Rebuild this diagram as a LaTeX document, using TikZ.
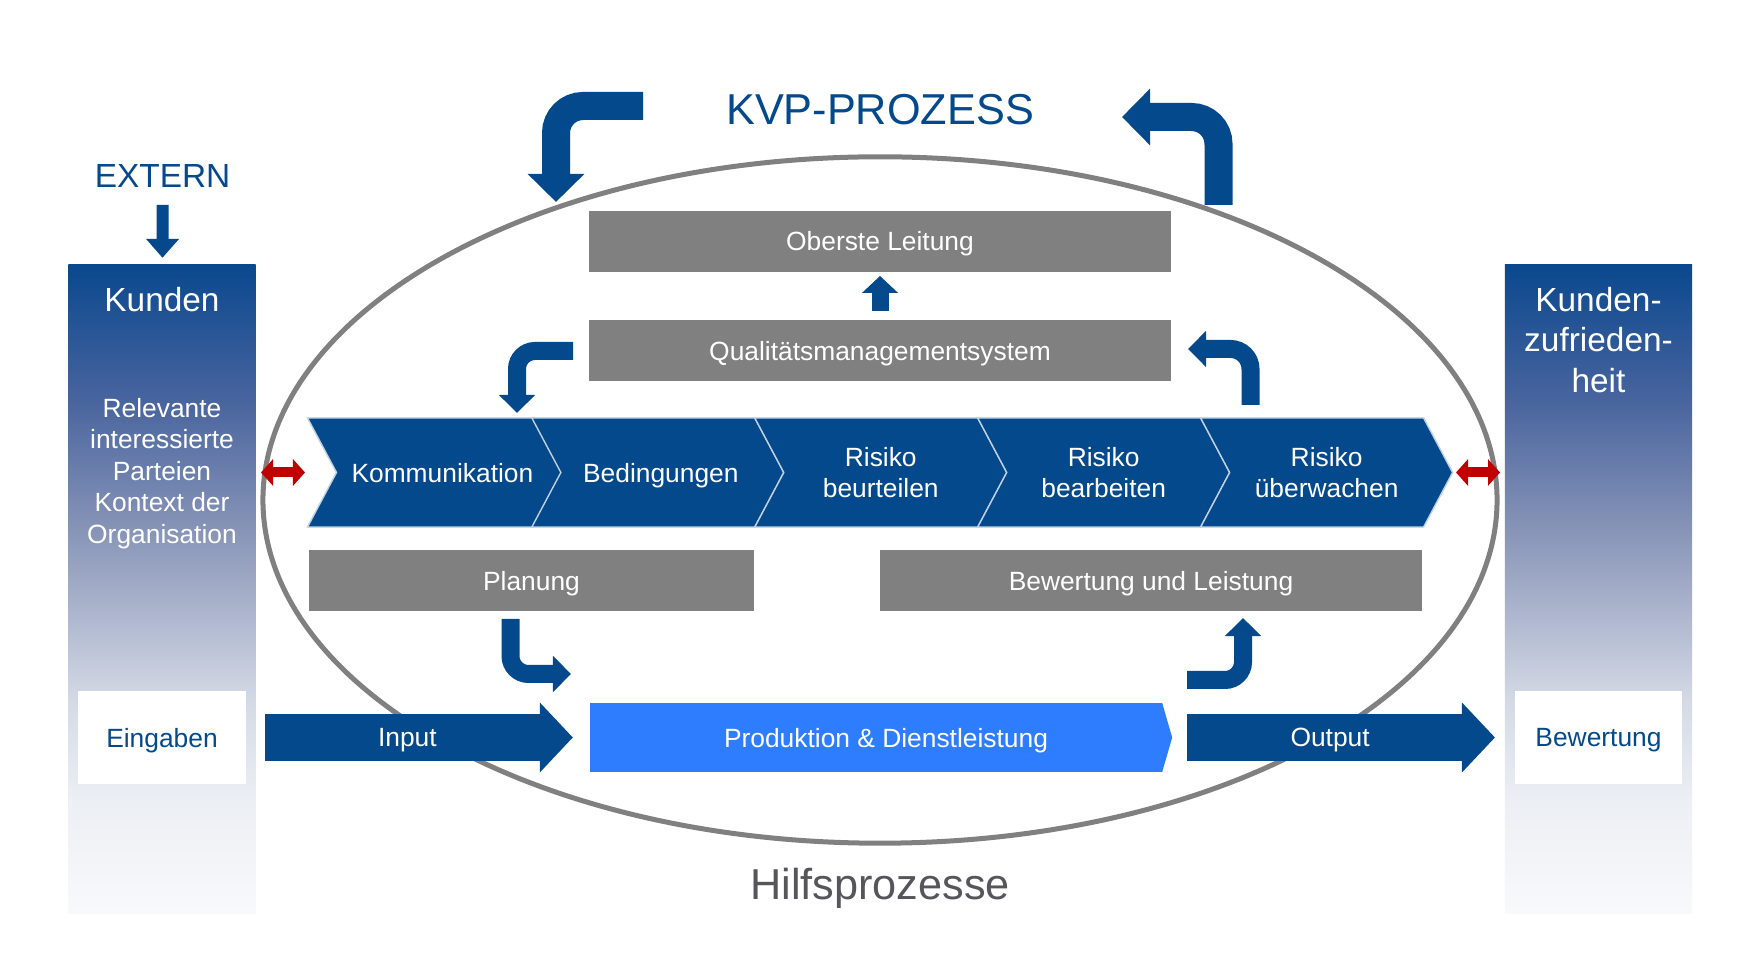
\documentclass[tikz,border=0pt]{standalone}
\usepackage{fontspec}
\setmainfont{Liberation Sans}
\usetikzlibrary{arrows.meta,shapes.symbols,positioning}
\definecolor{K}{RGB}{4,73,140}
\definecolor{P}{RGB}{47,125,255}
\definecolor{G}{RGB}{128,128,128}
\definecolor{R}{RGB}{192,0,0}
\definecolor{H}{RGB}{85,85,90}
\definecolor{S0}{RGB}{248,249,251}
\definecolor{S1}{RGB}{236,239,244}
\definecolor{S2}{RGB}{212,217,229}
\definecolor{S3}{RGB}{135,148,183}
\definecolor{S4}{RGB}{72,100,158}
\definecolor{S5}{RGB}{10,72,142}
\pgfdeclareverticalshading{kund}{100bp}{color(0bp)=(S0); color(25bp)=(S0); color(33.7bp)=(S1); color(41.4bp)=(S2); color(54.6bp)=(S3); color(64.6bp)=(S4); color(75bp)=(S5); color(100bp)=(S5)}
\newcommand{\kvpsmall}{\fontsize{7.5}{9}\selectfont}
\newcommand{\kvpmid}{\fontsize{9.5}{11.4}\selectfont}
\newcommand{\kvpbig}{\fontsize{12.3}{14}\selectfont}
\tikzstyle{box} = [rectangle, fill=G, text=white, font=\kvpsmall, text depth=0pt,
minimum width=5.82cm, minimum height=0.61cm, inner sep=0pt, outer sep=0pt]
\tikzstyle{wbox} = [rectangle, fill=white, text=K, font=\kvpsmall, text depth=0pt,
minimum width=1.67cm, minimum height=0.93cm, inner sep=0pt, outer sep=0pt]
\tikzstyle{panel} = [rectangle, shade, shading=kund,
minimum width=1.87cm, minimum height=6.48cm, inner sep=0pt, outer sep=0pt]
\tikzstyle{chev} = [signal, signal from=west, signal to=east,
signal pointer angle=124, fill=K, draw=white!75!K, line width=0.4pt,
text=white, font=\kvpsmall, align=center,
minimum width=2.518cm, minimum height=1.09cm, inner sep=0pt]
\tikzstyle{pfeilgross} = [K, line width=0.28cm, rounded corners=0.27cm, -{Triangle[width=0.55cm,length=0.28cm]}]
\tikzstyle{pfeilklein} = [K, line width=0.18cm, rounded corners=0.18cm, -{Triangle[width=0.35cm,length=0.18cm]}]
\tikzstyle{pfeilio} = [K, line width=0.46cm, -{Triangle[width=0.68cm,length=0.33cm]}]
\tikzstyle{pfeilrot} = [R, line width=0.1cm, {Triangle[width=0.26cm,length=0.12cm]}-{Triangle[width=0.26cm,length=0.12cm]}]

\begin{document}
\begin{tikzpicture}[x=0.01cm, y=-0.01cm, node distance=2.228cm]
  \fill[white] (0,0) rectangle (1758,977);
  \useasboundingbox (0,0) rectangle (1758,977);

  % Randspalten
  \node[panel] (links) at (162,589) {};
  \node[panel] (rechts) at (1598.5,589) {};
  \node[K, font=\kvpmid] (extern) at (162.6,176) {EXTERN};
  \node[white, font=\kvpmid] (kunden) at (162,300) {Kunden};
  \node[white, font=\kvpsmall, align=center] (kontext) at (162,473.5)
    {Relevante\\interessierte\\Parteien\\Kontext der\\Organisation};
  \node[wbox] (eing) at (162,737.5) {Eingaben};
  \node[white, font=\kvpmid, align=center] (zufr) at (1598.5,340) {Kunden-\\zufrieden-\\heit};
  \node[wbox] (bew) at (1598.5,737.5) {Bewertung};
  \draw[K, line width=0.12cm, -{Triangle[width=0.32cm,length=0.19cm]},
    shorten <=0.05cm, shorten >=0.07cm] (extern) -- (links);

  % Ellipse
  \draw[G, line width=0.05cm] (880,500) ellipse [x radius=6.167cm, y radius=3.43cm];
  \node[K, font=\kvpbig] (kvp) at (880,109.5) {KVP-PROZESS};
  \node[H, font=\kvpbig] (hilf) at (880,888) {Hilfsprozesse};

  \node[box] (qms) at (880,350.5) {Qualitätsmanagementsystem};
  \node[box, above of=qms, node distance=1.09cm] (ober) {Oberste Leitung};
  \node[box, minimum width=4.45cm] (plan) at (531.5,580.5) {Planung};
  \node[box, minimum width=5.42cm] (bul) at (1151,580.5) {Bewertung und Leistung};
  \draw[K, line width=0.17cm, -{Triangle[width=0.35cm,length=0.17cm]},
    shorten <=0.09cm, shorten >=0.04cm] (qms) -- (ober);

  % Prozesskette
  \node[chev, text depth=0pt] (komm) at (434.9,472.5) {\hspace{0.15cm}Kommunikation};
  \node[chev, text depth=0pt, right of=komm] (bed) {\hspace{0.06cm}Bedingungen};
  \node[chev, right of=bed] (beur) {Risiko\\beurteilen};
  \node[chev, right of=beur] (bearb) {Risiko\\bearbeiten};
  \node[chev, right of=bearb] (ueb) {Risiko\\überwachen};

  \node[rectangle, fill=P, text=white, font=\kvpsmall, text depth=0pt, minimum width=5.72cm,
    minimum height=0.69cm, inner sep=0pt, outer sep=0pt] (prod) at (876,737.5) {\hspace{0.2cm}Produktion \& Dienstleistung};
  \fill[P] (prod.north east) -- ([xshift=0.1cm]prod.east) -- (prod.south east) -- cycle;

  \draw[pfeilio, shorten <=0.195cm, shorten >=0.17cm] (eing) -- node[pos=0.47, white, font=\kvpsmall, text depth=0pt] (inp) {Input} (prod);
  \draw[pfeilio, shorten <=0.25cm, shorten >=0.2cm] (prod) -- node[pos=0.476, white, font=\kvpsmall, text depth=0pt] (outp) {Output} (bew);

  % Kreislauf
  \coordinate (a1) at (643,106);    \coordinate (a1e) at (556,202);
  \coordinate (a2) at (1218.5,205); \coordinate (a2e) at (1122,117);
  \coordinate (a3) at (573,351);    \coordinate (a3e) at (517,413);
  \coordinate (a4) at (1250.5,405); \coordinate (a4e) at (1188,349);
  \coordinate (a5) at (510.5,619);  \coordinate (a5e) at (571,674);
  \coordinate (a6) at (1187,680);   \coordinate (a6e) at (1243,618);
  \draw[pfeilgross] (a1) -| (a1e);
  \draw[pfeilgross] (a2) |- (a2e);
  \draw[pfeilklein] (a3) -| (a3e);
  \draw[pfeilklein, rounded corners=0.2cm] (a4) |- (a4e);
  \draw[pfeilklein] (a5) |- (a5e);
  \draw[pfeilklein] (a6) -| (a6e);

  \coordinate (r1) at (261,472.5);  \coordinate (r2) at (305,472.5);
  \coordinate (r3) at (1456,472.5); \coordinate (r4) at (1500,472.5);
  \draw[pfeilrot] (r1) -- (r2);
  \draw[pfeilrot] (r3) -- (r4);
\end{tikzpicture}
\end{document}
